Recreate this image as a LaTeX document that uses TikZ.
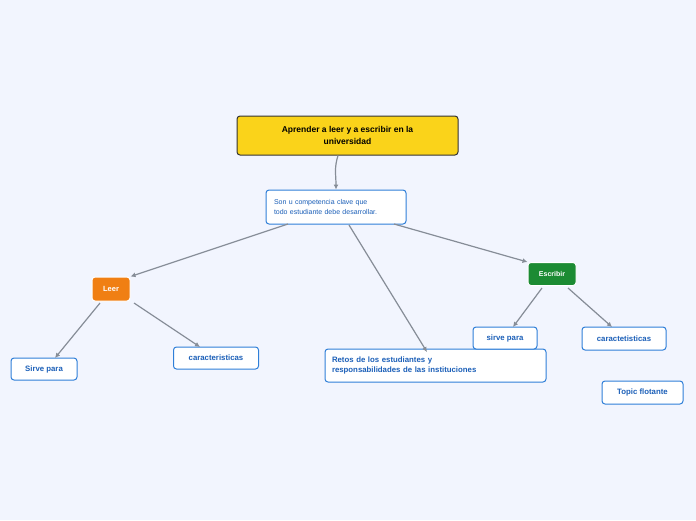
\documentclass[tikz,border=0pt]{standalone}
\usepackage{fontspec}
\setmainfont{Liberation Sans}
\definecolor{bg}{HTML}{F2F5FE}
\definecolor{tb}{HTML}{1B5FB8}
\definecolor{bd}{HTML}{2F7FD8}
\definecolor{ln}{HTML}{868D97}
\tikzset{
 sub/.style={draw=bd,line width=1pt,fill=white,rounded corners=3pt,text=tb,font=\bfseries\fontsize{7.8}{9.5}\selectfont,inner xsep=7pt,align=left},
 mainbox/.style={rounded corners=3pt,text=white,font=\bfseries\fontsize{7.5}{9}\selectfont,draw=white,line width=1pt},
 con/.style={draw=ln,line width=1.2pt,-{Latex[length=5pt,width=5pt]}}
}
\usetikzlibrary{arrows.meta}
\begin{document}
\begin{tikzpicture}[x=1pt,y=-1pt]
\fill[bg] (0,0) rectangle (696,520);
\useasboundingbox (0,0) rectangle (696,520);
\node[draw=black!80,line width=1pt,fill={rgb,255:red,250;green,211;blue,26},rounded corners=3pt,minimum width=221pt,minimum height=39pt,align=center,font=\bfseries\fontsize{8.5}{12}\selectfont] (t) at (347.5,135.5) {Aprender a leer y a escribir en la\\universidad};
\node[sub,minimum width=140pt,minimum height=34pt,font=\fontsize{7}{9.5}\selectfont,text width=124pt] (s) at (336,207) {Son u competencia clave que\\todo estudiante debe desarrollar.};
\node[mainbox,fill={rgb,255:red,240;green,127;blue,19},minimum width=38pt,minimum height=24pt] (l) at (111,289) {Leer};
\node[mainbox,fill={rgb,255:red,28;green,139;blue,51},minimum width=48pt,minimum height=23pt,font=\bfseries\fontsize{7}{8}\selectfont] (e) at (552,274) {Escribir};
\node[sub,minimum width=66pt,minimum height=22pt] (a) at (44,369) {Sirve para};
\node[sub,minimum width=85pt,minimum height=22pt] (b) at (216,358) {caracteristicas};
\node[sub,minimum width=221pt,minimum height=33pt,text width=207pt] (r) at (435.5,365.5) {Retos de los estudiantes y\\responsabilidades de las instituciones};
\node[sub,minimum width=64pt,minimum height=22pt] (c) at (505,338) {sirve para};
\node[sub,minimum width=84pt,minimum height=23pt] (d) at (624,338.5) {caractetisticas};
\node[sub,minimum width=81pt,minimum height=23pt] (f) at (642.5,392.5) {Topic flotante};
\draw[con] (t.south -| 338,0) .. controls (334,168) and (336,175) .. (s.north);
\draw[con] (288,224) -- (l.north east);
\draw[con] (349,225) -- (427,352);
\draw[con] (394,224) -- (e.north west);
\draw[con] (100,303) -- (55,358);
\draw[con] (134,303) -- (200,347);
\draw[con] (542,288) -- (513,327);
\draw[con] (568,288) -- (612,327);
\end{tikzpicture}
\end{document}
